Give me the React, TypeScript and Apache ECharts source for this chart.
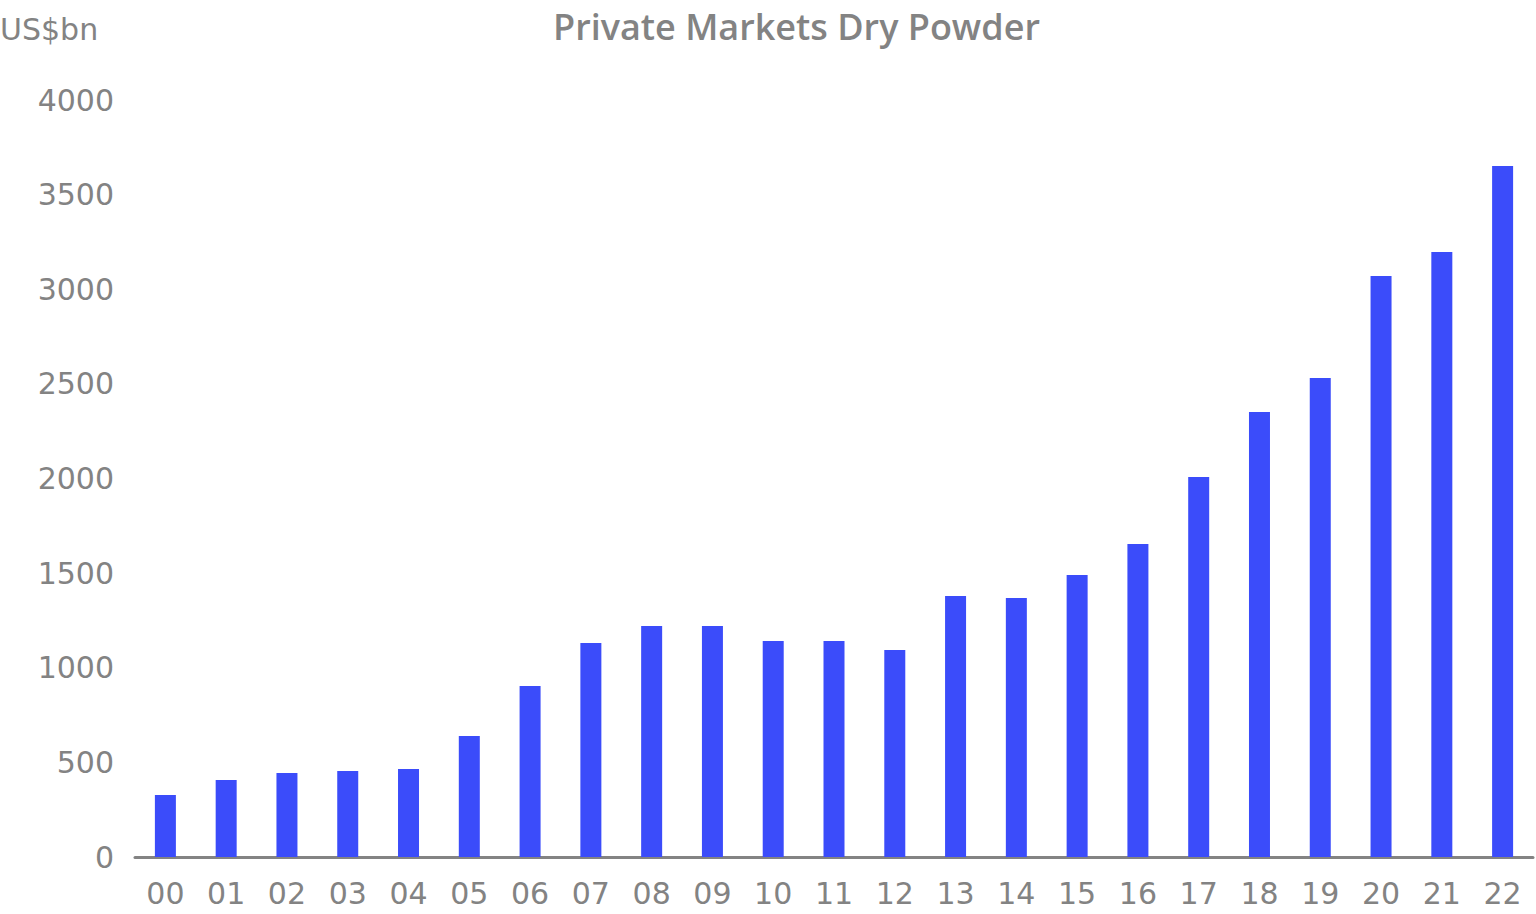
import React, { useEffect, useRef } from "react";
import * as echarts from "echarts";

const years = ["00","01","02","03","04","05","06","07","08","09","10","11","12","13","14","15","16","17","18","19","20","21","22"];
const dryPowder = [328, 407, 444, 454, 465, 639, 904, 1131, 1221, 1221, 1141, 1141, 1094, 1379, 1369, 1490, 1654, 2008, 2351, 2531, 3070, 3197, 3651];
const titleText = "Private Markets Dry Powder";
const unitText = "US$bn";

export default function App() {
  const ref = useRef<HTMLDivElement>(null);
  useEffect(() => {
    if (!ref.current) return;
    const chart = echarts.init(ref.current, null, { renderer: "svg" });
    const grey = "#838383";
    const font = "'DejaVu Sans', sans-serif";
    chart.setOption({
      animation: false,
      textStyle: { fontFamily: font },
      title: {
        text: titleText,
        left: 548,
        top: 3,
        textStyle: { color: grey, fontSize: 36, fontWeight: 600, fontFamily: "'Open Sans', sans-serif" },
      },
      graphic: [
        {
          type: "text",
          left: 0,
          top: 14,
          style: { text: unitText, fill: grey, fontSize: 30, fontFamily: font },
        },
      ],
      grid: { left: 135, right: 3, top: 100, bottom: 57, containLabel: false },
      xAxis: {
        type: "category",
        data: years,
        boundaryGap: true,
        axisLine: { show: true, lineStyle: { color: grey, width: 3 } },
        axisTick: { show: false },
        axisLabel: { color: grey, fontSize: 30, margin: 21, fontFamily: font },
      },
      yAxis: {
        type: "value",
        min: 0,
        max: 4000,
        interval: 500,
        splitLine: { show: false },
        axisLine: { show: false },
        axisTick: { show: false },
        axisLabel: { color: grey, fontSize: 30, margin: 21, fontFamily: font, formatter: (v: number) => String(v) },
      },
      series: [
        {
          type: "bar",
          data: dryPowder,
          barWidth: 21,
          itemStyle: { color: "#3B4CFA" },
        },
      ],
    });
    return () => chart.dispose();
  }, []);
  return <div ref={ref} style={{ width: 1536, height: 914, position: "absolute", left: 0, top: 0 }} />;
}
